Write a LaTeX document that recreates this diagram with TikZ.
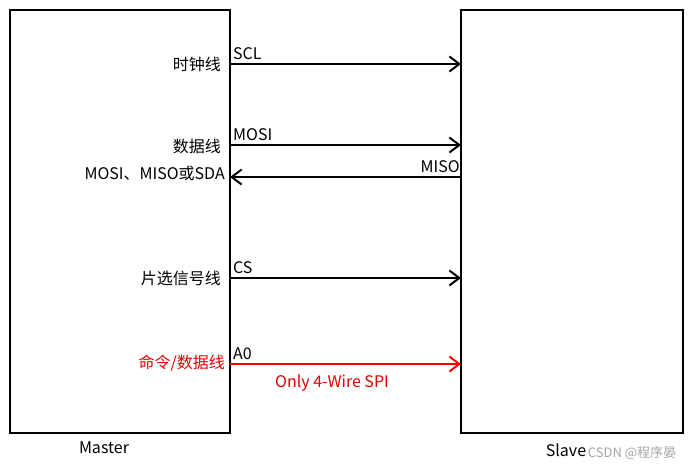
\documentclass[tikz,border=0pt]{standalone}
\usepackage{fontspec}
\setmainfont{Noto Sans CJK SC}
\usetikzlibrary{arrows.meta}
\begin{document}
\begin{tikzpicture}[x=1pt,y=-1pt,
  box/.style={draw,line width=2pt},
  sig/.style={line width=2pt,-{Straight Barb[length=10pt,width=15pt,line width=2pt]}},
  lbl/.style={font=\fontsize{16}{18}\selectfont,inner sep=1pt},
  redc/.style={color=red!90!black}]
\useasboundingbox (0,0) rectangle (696,471);
\fill[white] (0,0) rectangle (696,471);
\draw[box] (10,10) rectangle (230,433);
\draw[box] (461,10) rectangle (683,433);
\coordinate (m1) at (230,64); \coordinate (s1) at (461,64);
\coordinate (m2) at (230,145); \coordinate (s2) at (461,145);
\coordinate (m3) at (230,177); \coordinate (s3) at (461,177);
\coordinate (m4) at (230,278); \coordinate (s4) at (461,278);
\coordinate (m5) at (230,364); \coordinate (s5) at (461,364);
\draw[sig] (m1) -- (s1);
\draw[sig] (m2) -- (s2);
\draw[sig] (s3) -- (m3);
\draw[sig] (m4) -- (s4);
\draw[sig,red] (m5) -- (s5);
\node[lbl,anchor=east] (t1) at (222,64) {时钟线};
\node[lbl,anchor=south west] (n1) at (232,61) {SCL};
\node[lbl,anchor=east] (t2) at (222,146) {数据线};
\node[lbl,anchor=south west] (n2) at (232,142) {MOSI};
\node[lbl,anchor=east] (t3) at (226,173) {MOSI、MISO或SDA};
\node[lbl,anchor=south east] (n3) at (461,174) {MISO};
\node[lbl,anchor=east] (t4) at (222,278) {片选信号线};
\node[lbl,anchor=south west] (n4) at (232,275) {CS};
\node[lbl,anchor=east,redc] (t5) at (226,363) {命令/数据线};
\node[lbl,anchor=south west] (n5) at (232,361) {A0};
\node[lbl,redc] (sp) at (332,383) {Only 4-Wire SPI};
\node[lbl] (ma) at (104,448) {Master};
\node[lbl] (sl) at (566,450) {Slave};
\node[font=\fontsize{13}{14}\selectfont,text=gray!70,inner sep=0pt] (wm) at (632,453) {CSDN @程序晏};
\end{tikzpicture}
\end{document}
